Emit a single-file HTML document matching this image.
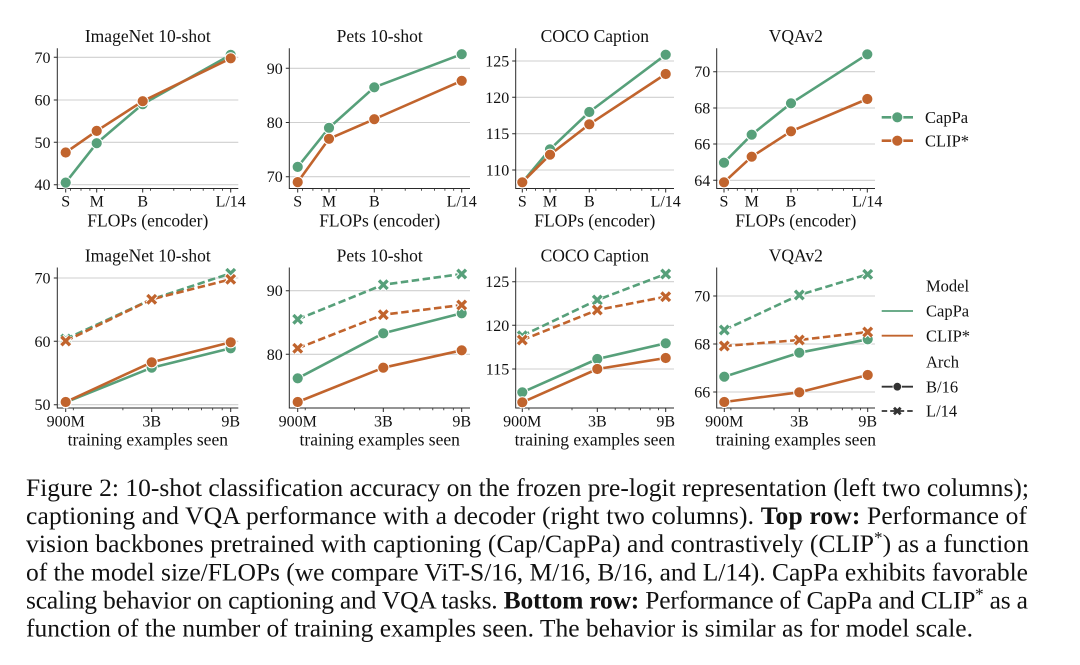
<!DOCTYPE html>
<html><head><meta charset="utf-8"><style>
html,body{margin:0;padding:0;background:#fff;}
svg{display:block;}
.grid{stroke:#cfcfcf;stroke-width:1.1;}
.sp{stroke:#2a2a2a;stroke-width:1;fill:none;}
.tk{stroke:#2a2a2a;stroke-width:1;}
.mt{stroke:#2a2a2a;stroke-width:0.8;}
.t{font-size:17.5px;text-anchor:middle;fill:#111;}
.yl{font-size:16px;text-anchor:end;fill:#111;}
.xl{font-size:16px;text-anchor:middle;fill:#111;}
.lg{font-size:16.5px;fill:#111;}
.g{stroke:#57a07a;stroke-width:2.6;fill:none;stroke-linejoin:round;}
.o{stroke:#c1642d;stroke-width:2.6;fill:none;stroke-linejoin:round;}
.d{stroke-dasharray:7.5 3.5;}
.cap{font-size:25.5px;fill:#111;}
</style></head><body>
<svg width="1080" height="665" viewBox="0 0 1080 665" font-family="'Liberation Serif', 'Times New Roman', serif">
<defs>
<g id="cg"><circle r="5.6" fill="#57a07a" stroke="#fff" stroke-width="1"/></g>
<g id="co"><circle r="5.6" fill="#c1642d" stroke="#fff" stroke-width="1"/></g>
<g id="xg"><path d="M-4.3,-4.3L4.3,4.3M-4.3,4.3L4.3,-4.3" stroke="#fff" stroke-width="5.4"/><path d="M-4.3,-4.3L4.3,4.3M-4.3,4.3L4.3,-4.3" stroke="#57a07a" stroke-width="3.3"/></g>
<g id="xo"><path d="M-4.3,-4.3L4.3,4.3M-4.3,4.3L4.3,-4.3" stroke="#fff" stroke-width="5.4"/><path d="M-4.3,-4.3L4.3,4.3M-4.3,4.3L4.3,-4.3" stroke="#c1642d" stroke-width="3.3"/></g>
</defs>

<!-- ================= TOP ROW ================= -->
<g>
<line class="grid" x1="57.3" x2="238.3" y1="57.3" y2="57.3"/>
<line class="grid" x1="57.3" x2="238.3" y1="100" y2="100"/>
<line class="grid" x1="57.3" x2="238.3" y1="142.3" y2="142.3"/>
<line class="grid" x1="57.3" x2="238.3" y1="184.7" y2="184.7"/>
<path class="sp" d="M57.3,48.3V188.5H238.3"/>
<path class="tk" d="M53.8,57.3H57.3M53.8,100H57.3M53.8,142.3H57.3M53.8,184.7H57.3M65.7,188.5V192.5M96.7,188.5V192.5M142.7,188.5V192.5M230.7,188.5V192.5"/>
<path class="mt" d="M70.5,188.5V190.8M81,188.5V190.8M89.9,188.5V190.8M104.4,188.5V190.8M150.4,188.5V190.8M173.8,188.5V190.8M190.4,188.5V190.8M203.2,188.5V190.8M213.8,188.5V190.8M222.6,188.5V190.8"/>
<text class="yl" x="50.5" y="62.8">70</text><text class="yl" x="50.5" y="105.5">60</text><text class="yl" x="50.5" y="147.8">50</text><text class="yl" x="50.5" y="190.2">40</text>
<text class="xl" x="65.7" y="206.5">S</text><text class="xl" x="96.7" y="206.5">M</text><text class="xl" x="142.7" y="206.5">B</text><text class="xl" x="230.7" y="206.5">L/14</text>
<text class="t" x="147.8" y="42">ImageNet 10-shot</text>
<text class="t" x="147.8" y="226.5">FLOPs (encoder)</text>
<polyline class="g" points="65.7,182.6 96.7,143.2 142.7,104.1 230.7,54.9"/>
<use href="#cg" x="65.7" y="182.6"/><use href="#cg" x="96.7" y="143.2"/><use href="#cg" x="142.7" y="104.1"/><use href="#cg" x="230.7" y="54.9"/>
<polyline class="o" points="65.7,152.5 96.7,130.9 142.7,101.2 230.7,58.3"/>
<use href="#co" x="65.7" y="152.5"/><use href="#co" x="96.7" y="130.9"/><use href="#co" x="142.7" y="101.2"/><use href="#co" x="230.7" y="58.3"/>
</g>

<g>
<line class="grid" x1="289.3" x2="470" y1="68.3" y2="68.3"/>
<line class="grid" x1="289.3" x2="470" y1="122.5" y2="122.5"/>
<line class="grid" x1="289.3" x2="470" y1="176.7" y2="176.7"/>
<path class="sp" d="M289.3,48.3V188.5H470"/>
<path class="tk" d="M285.8,68.3H289.3M285.8,122.5H289.3M285.8,176.7H289.3M297.7,188.5V192.5M329,188.5V192.5M374.3,188.5V192.5M461.7,188.5V192.5"/>
<path class="mt" d="M302.5,188.5V190.8M312.9,188.5V190.8M321.8,188.5V190.8M336.2,188.5V190.8M381.9,188.5V190.8M405.2,188.5V190.8M421.6,188.5V190.8M434.4,188.5V190.8M444.9,188.5V190.8M453.7,188.5V190.8"/>
<text class="yl" x="282.8" y="73.8">90</text><text class="yl" x="282.8" y="128">80</text><text class="yl" x="282.8" y="182.2">70</text>
<text class="xl" x="297.7" y="206.5">S</text><text class="xl" x="329" y="206.5">M</text><text class="xl" x="374.3" y="206.5">B</text><text class="xl" x="461.7" y="206.5">L/14</text>
<text class="t" x="379.7" y="42">Pets 10-shot</text>
<text class="t" x="379.7" y="226.5">FLOPs (encoder)</text>
<polyline class="g" points="297.7,166.9 329,127.9 374.3,87.3 461.7,54.2"/>
<use href="#cg" x="297.7" y="166.9"/><use href="#cg" x="329" y="127.9"/><use href="#cg" x="374.3" y="87.3"/><use href="#cg" x="461.7" y="54.2"/>
<polyline class="o" points="297.7,182.1 329,138.8 374.3,119.2 461.7,80.8"/>
<use href="#co" x="297.7" y="182.1"/><use href="#co" x="329" y="138.8"/><use href="#co" x="374.3" y="119.2"/><use href="#co" x="461.7" y="80.8"/>
</g>

<g>
<line class="grid" x1="515.7" x2="674" y1="61" y2="61"/>
<line class="grid" x1="515.7" x2="674" y1="97.3" y2="97.3"/>
<line class="grid" x1="515.7" x2="674" y1="133.7" y2="133.7"/>
<line class="grid" x1="515.7" x2="674" y1="170" y2="170"/>
<path class="sp" d="M515.7,48.3V188.5H674"/>
<path class="tk" d="M512.2,61H515.7M512.2,97.3H515.7M512.2,133.7H515.7M512.2,170H515.7M522.3,188.5V192.5M550,188.5V192.5M589.3,188.5V192.5M665.7,188.5V192.5"/>
<path class="mt" d="M526.5,188.5V190.8M535.6,188.5V190.8M543.3,188.5V190.8M555.9,188.5V190.8M595.9,188.5V190.8M616.3,188.5V190.8M630.7,188.5V190.8M641.8,188.5V190.8M651,188.5V190.8M658.7,188.5V190.8"/>
<text class="yl" x="509.2" y="66.5">125</text><text class="yl" x="509.2" y="102.8">120</text><text class="yl" x="509.2" y="139.2">115</text><text class="yl" x="509.2" y="175.5">110</text>
<text class="xl" x="522.3" y="206.5">S</text><text class="xl" x="550" y="206.5">M</text><text class="xl" x="589.3" y="206.5">B</text><text class="xl" x="665.7" y="206.5">L/14</text>
<text class="t" x="594.8" y="42">COCO Caption</text>
<text class="t" x="594.8" y="226.5">FLOPs (encoder)</text>
<polyline class="g" points="522.3,182.3 550,149.3 589.3,112 665.7,54.7"/>
<use href="#cg" x="522.3" y="182.3"/><use href="#cg" x="550" y="149.3"/><use href="#cg" x="589.3" y="112"/><use href="#cg" x="665.7" y="54.7"/>
<polyline class="o" points="522.3,182.3 550,154.7 589.3,124.3 665.7,74"/>
<use href="#co" x="522.3" y="182.3"/><use href="#co" x="550" y="154.7"/><use href="#co" x="589.3" y="124.3"/><use href="#co" x="665.7" y="74"/>
</g>

<g>
<line class="grid" x1="716.7" x2="875" y1="71.7" y2="71.7"/>
<line class="grid" x1="716.7" x2="875" y1="108" y2="108"/>
<line class="grid" x1="716.7" x2="875" y1="144" y2="144"/>
<line class="grid" x1="716.7" x2="875" y1="180.3" y2="180.3"/>
<path class="sp" d="M716.7,48.3V188.5H875"/>
<path class="tk" d="M713.2,71.7H716.7M713.2,108H716.7M713.2,144H716.7M713.2,180.3H716.7M724,188.5V192.5M751.7,188.5V192.5M791,188.5V192.5M867.3,188.5V192.5"/>
<path class="mt" d="M728.2,188.5V190.8M737.3,188.5V190.8M745,188.5V190.8M757.6,188.5V190.8M797.6,188.5V190.8M817.9,188.5V190.8M832.3,188.5V190.8M843.5,188.5V190.8M852.6,188.5V190.8M860.3,188.5V190.8"/>
<text class="yl" x="710.2" y="77.2">70</text><text class="yl" x="710.2" y="113.5">68</text><text class="yl" x="710.2" y="149.5">66</text><text class="yl" x="710.2" y="185.8">64</text>
<text class="xl" x="724" y="206.5">S</text><text class="xl" x="751.7" y="206.5">M</text><text class="xl" x="791" y="206.5">B</text><text class="xl" x="867.3" y="206.5">L/14</text>
<text class="t" x="795.8" y="42">VQAv2</text>
<text class="t" x="795.8" y="226.5">FLOPs (encoder)</text>
<polyline class="g" points="724,162.7 751.7,134.7 791,103.3 867.3,54.3"/>
<use href="#cg" x="724" y="162.7"/><use href="#cg" x="751.7" y="134.7"/><use href="#cg" x="791" y="103.3"/><use href="#cg" x="867.3" y="54.3"/>
<polyline class="o" points="724,182.3 751.7,156.7 791,131.3 867.3,99"/>
<use href="#co" x="724" y="182.3"/><use href="#co" x="751.7" y="156.7"/><use href="#co" x="791" y="131.3"/><use href="#co" x="867.3" y="99"/>
</g>

<g>
<line class="g" x1="881.7" x2="913" y1="117.3" y2="117.3"/><use href="#cg" x="897.3" y="117.3"/>
<text class="lg" x="925" y="123">CapPa</text>
<line class="o" x1="881.7" x2="913" y1="140.7" y2="140.7"/><use href="#co" x="897.3" y="140.7"/>
<text class="lg" x="925" y="146.4">CLIP*</text>
</g>

<!-- ================= BOTTOM ROW ================= -->
<g>
<line class="grid" x1="57.3" x2="238.3" y1="278" y2="278"/>
<line class="grid" x1="57.3" x2="238.3" y1="341.3" y2="341.3"/>
<line class="grid" x1="57.3" x2="238.3" y1="404.7" y2="404.7"/>
<path class="sp" d="M57.3,267.5V408H238.3"/>
<path class="tk" d="M53.8,278H57.3M53.8,341.3H57.3M53.8,404.7H57.3M65.7,408V412M151.7,408V412M230.7,408V412"/>
<path class="mt" d="M73.3,408V410.3M122.9,408V410.3M172.6,408V410.3M188.6,408V410.3M201.6,408V410.3M212.7,408V410.3M222.2,408V410.3"/>
<text class="yl" x="50.5" y="283.5">70</text><text class="yl" x="50.5" y="346.8">60</text><text class="yl" x="50.5" y="410.2">50</text>
<text class="xl" x="65.7" y="426.5">900M</text><text class="xl" x="151.7" y="426.5">3B</text><text class="xl" x="230.7" y="426.5">9B</text>
<text class="t" x="147.8" y="261.3">ImageNet 10-shot</text>
<text class="t" x="147.8" y="445.5">training examples seen</text>
<polyline class="g" points="65.7,402.3 151.7,367.7 230.7,348.3"/>
<use href="#cg" x="65.7" y="402.3"/><use href="#cg" x="151.7" y="367.7"/><use href="#cg" x="230.7" y="348.3"/>
<polyline class="g d" points="65.7,339 151.7,299.3 230.7,273.3"/>
<use href="#xg" x="65.7" y="339"/><use href="#xg" x="151.7" y="299.3"/><use href="#xg" x="230.7" y="273.3"/>
<polyline class="o" points="65.7,402 151.7,362.3 230.7,342.3"/>
<use href="#co" x="65.7" y="402"/><use href="#co" x="151.7" y="362.3"/><use href="#co" x="230.7" y="342.3"/>
<polyline class="o d" points="65.7,341 151.7,299.3 230.7,279.3"/>
<use href="#xo" x="65.7" y="341"/><use href="#xo" x="151.7" y="299.3"/><use href="#xo" x="230.7" y="279.3"/>
</g>

<g>
<line class="grid" x1="289.3" x2="470" y1="290.7" y2="290.7"/>
<line class="grid" x1="289.3" x2="470" y1="354.3" y2="354.3"/>
<path class="sp" d="M289.3,267.5V408H470"/>
<path class="tk" d="M285.8,290.7H289.3M285.8,354.3H289.3M297.7,408V412M383.3,408V412M461.7,408V412"/>
<path class="mt" d="M305.2,408V410.3M354.6,408V410.3M403.9,408V410.3M419.8,408V410.3M432.8,408V410.3M443.8,408V410.3M453.3,408V410.3"/>
<text class="yl" x="282.8" y="296.2">90</text><text class="yl" x="282.8" y="359.8">80</text>
<text class="xl" x="297.7" y="426.5">900M</text><text class="xl" x="383.3" y="426.5">3B</text><text class="xl" x="461.7" y="426.5">9B</text>
<text class="t" x="379.7" y="261.3">Pets 10-shot</text>
<text class="t" x="379.7" y="445.5">training examples seen</text>
<polyline class="g" points="297.7,378.3 383.3,333.3 461.7,313.3"/>
<use href="#cg" x="297.7" y="378.3"/><use href="#cg" x="383.3" y="333.3"/><use href="#cg" x="461.7" y="313.3"/>
<polyline class="g d" points="297.7,319.3 383.3,284.7 461.7,274"/>
<use href="#xg" x="297.7" y="319.3"/><use href="#xg" x="383.3" y="284.7"/><use href="#xg" x="461.7" y="274"/>
<polyline class="o" points="297.7,402 383.3,367.7 461.7,350.3"/>
<use href="#co" x="297.7" y="402"/><use href="#co" x="383.3" y="367.7"/><use href="#co" x="461.7" y="350.3"/>
<polyline class="o d" points="297.7,348.3 383.3,314.7 461.7,305"/>
<use href="#xo" x="297.7" y="348.3"/><use href="#xo" x="383.3" y="314.7"/><use href="#xo" x="461.7" y="305"/>
</g>

<g>
<line class="grid" x1="515.7" x2="674" y1="281.7" y2="281.7"/>
<line class="grid" x1="515.7" x2="674" y1="325.3" y2="325.3"/>
<line class="grid" x1="515.7" x2="674" y1="369" y2="369"/>
<path class="sp" d="M515.7,267.5V408H674"/>
<path class="tk" d="M512.2,281.7H515.7M512.2,325.3H515.7M512.2,369H515.7M522.3,408V412M597.3,408V412M665.7,408V412"/>
<path class="mt" d="M528.9,408V410.3M572,408V410.3M615.2,408V410.3M629.1,408V410.3M640.4,408V410.3M650,408V410.3M658.4,408V410.3"/>
<text class="yl" x="509.2" y="287.2">125</text><text class="yl" x="509.2" y="330.8">120</text><text class="yl" x="509.2" y="374.5">115</text>
<text class="xl" x="522.3" y="426.5">900M</text><text class="xl" x="597.3" y="426.5">3B</text><text class="xl" x="665.7" y="426.5">9B</text>
<text class="t" x="594.8" y="261.3">COCO Caption</text>
<text class="t" x="594.8" y="445.5">training examples seen</text>
<polyline class="g" points="522.3,392.3 597.3,359 665.7,343.3"/>
<use href="#cg" x="522.3" y="392.3"/><use href="#cg" x="597.3" y="359"/><use href="#cg" x="665.7" y="343.3"/>
<polyline class="g d" points="522.3,335.7 597.3,300 665.7,274"/>
<use href="#xg" x="522.3" y="335.7"/><use href="#xg" x="597.3" y="300"/><use href="#xg" x="665.7" y="274"/>
<polyline class="o" points="522.3,402.3 597.3,369 665.7,358"/>
<use href="#co" x="522.3" y="402.3"/><use href="#co" x="597.3" y="369"/><use href="#co" x="665.7" y="358"/>
<polyline class="o d" points="522.3,340 597.3,310 665.7,296.7"/>
<use href="#xo" x="522.3" y="340"/><use href="#xo" x="597.3" y="310"/><use href="#xo" x="665.7" y="296.7"/>
</g>

<g>
<line class="grid" x1="716.7" x2="875" y1="296" y2="296"/>
<line class="grid" x1="716.7" x2="875" y1="344" y2="344"/>
<line class="grid" x1="716.7" x2="875" y1="392" y2="392"/>
<path class="sp" d="M716.7,267.5V408H875"/>
<path class="tk" d="M713.2,296H716.7M713.2,344H716.7M713.2,392H716.7M724.3,408V412M799.3,408V412M867.7,408V412"/>
<path class="mt" d="M730.9,408V410.3M774,408V410.3M817.2,408V410.3M831.1,408V410.3M842.4,408V410.3M852,408V410.3M860.4,408V410.3"/>
<text class="yl" x="710.2" y="301.5">70</text><text class="yl" x="710.2" y="349.5">68</text><text class="yl" x="710.2" y="397.5">66</text>
<text class="xl" x="724.3" y="426.5">900M</text><text class="xl" x="799.3" y="426.5">3B</text><text class="xl" x="867.7" y="426.5">9B</text>
<text class="t" x="795.8" y="261.3">VQAv2</text>
<text class="t" x="795.8" y="445.5">training examples seen</text>
<polyline class="g" points="724.3,376.7 799.3,352.7 867.7,339.3"/>
<use href="#cg" x="724.3" y="376.7"/><use href="#cg" x="799.3" y="352.7"/><use href="#cg" x="867.7" y="339.3"/>
<polyline class="g d" points="724.3,330 799.3,295 867.7,274.3"/>
<use href="#xg" x="724.3" y="330"/><use href="#xg" x="799.3" y="295"/><use href="#xg" x="867.7" y="274.3"/>
<polyline class="o" points="724.3,402 799.3,392.3 867.7,375"/>
<use href="#co" x="724.3" y="402"/><use href="#co" x="799.3" y="392.3"/><use href="#co" x="867.7" y="375"/>
<polyline class="o d" points="724.3,346 799.3,340 867.7,332"/>
<use href="#xo" x="724.3" y="346"/><use href="#xo" x="799.3" y="340"/><use href="#xo" x="867.7" y="332"/>
</g>

<g>
<text class="lg" x="926" y="291.7">Model</text>
<line x1="881.7" x2="913" y1="311" y2="311" stroke="#57a07a" stroke-width="1.8"/>
<text class="lg" x="926" y="316.7">CapPa</text>
<line x1="881.7" x2="913" y1="335.7" y2="335.7" stroke="#c1642d" stroke-width="1.8"/>
<text class="lg" x="926" y="341.4">CLIP*</text>
<text class="lg" x="926" y="367.4">Arch</text>
<line x1="881.7" x2="913" y1="386.7" y2="386.7" stroke="#333" stroke-width="1.8"/>
<circle cx="897.3" cy="386.7" r="4.3" fill="#333" stroke="#fff" stroke-width="0.8"/>
<text class="lg" x="926" y="392.4">B/16</text>
<line x1="881.7" x2="913" y1="411" y2="411" stroke="#333" stroke-width="1.8" stroke-dasharray="5.5 3"/>
<path d="M-3.3,-3.3L3.3,3.3M-3.3,3.3L3.3,-3.3" transform="translate(897.3,411)" stroke="#333" stroke-width="2.8"/>
<text class="lg" x="926" y="416.7">L/14</text>
</g>

<!-- ================= CAPTION ================= -->
<g class="cap">
<text x="26" y="496" textLength="1003" lengthAdjust="spacing">Figure 2: 10-shot classification accuracy on the frozen pre-logit representation (left two columns);</text>
<text x="26" y="524.1" textLength="1001" lengthAdjust="spacing">captioning and VQA performance with a decoder (right two columns). <tspan font-weight="bold">Top row:</tspan> Performance of</text>
<text x="26" y="552.2" textLength="1003" lengthAdjust="spacing">vision backbones pretrained with captioning (Cap/CapPa) and contrastively (CLIP<tspan dy="-9" font-size="17">*</tspan><tspan dy="9">) as a function</tspan></text>
<text x="26" y="580.3" textLength="1002" lengthAdjust="spacing">of the model size/FLOPs (we compare ViT-S/16, M/16, B/16, and L/14). CapPa exhibits favorable</text>
<text x="26" y="608.4" textLength="1002" lengthAdjust="spacing">scaling behavior on captioning and VQA tasks. <tspan font-weight="bold">Bottom row:</tspan> Performance of CapPa and CLIP<tspan dy="-9" font-size="17">*</tspan><tspan dy="9"> as a</tspan></text>
<text x="26" y="636.5" textLength="947" lengthAdjust="spacing">function of the number of training examples seen. The behavior is similar as for model scale.</text>
</g>
</svg>
</body></html>
